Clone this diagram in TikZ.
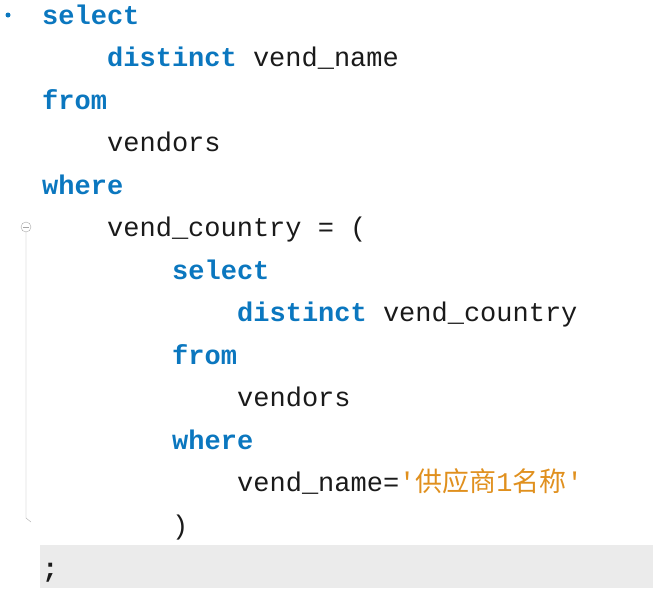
\documentclass[tikz,border=0pt]{standalone}
\usepackage{fontspec}
\setmonofont{Liberation Mono}
\newfontfamily\cjk{Noto Sans CJK SC}
\definecolor{kw}{HTML}{0B77BF}
\definecolor{str}{HTML}{E0901E}
\definecolor{txt}{HTML}{1A1A1A}
\definecolor{bar}{HTML}{EBEBEB}
\tikzset{code/.style={anchor=base west,inner sep=0pt,yshift=-9pt,font=\ttfamily\fontsize{27}{30}\selectfont,text=txt},
kwd/.style={code,text=kw,font=\ttfamily\bfseries\fontsize{27}{30}\selectfont}}
\begin{document}
\begin{tikzpicture}[x=1pt,y=-1pt]
\useasboundingbox (0,0) rectangle (653,597);
\fill[bar] (40,545) rectangle (653,588);
\fill[kw] (8,15) circle (2.5);
\draw[gray!70] (26,227) circle (5);
\draw[gray!70] (23,227) -- (29,227);
\draw[gray!70] (26,232) -- (26,518) -- (31,522);
\node[kwd] (l1) at (42,15) {select};
\node[kwd] (l2) at (107,57) {distinct\ \textcolor{txt}{\mdseries vend\_name}};
\node[kwd] (l3) at (42,100) {from};
\node[code] (l4) at (107,142) {vendors};
\node[kwd] (l5) at (42,185) {where};
\node[code] (l6) at (107,227) {vend\_country = (};
\node[kwd] (l7) at (172,270) {select};
\node[kwd] (l8) at (237,312) {distinct\ \textcolor{txt}{\mdseries vend\_country}};
\node[kwd] (l9) at (172,355) {from};
\node[code] (l10) at (237,397) {vendors};
\node[kwd] (l11) at (172,440) {where};
\node[code] (l12) at (237,482) {vend\_name=\textcolor{str}{'{\cjk 供应商}1{\cjk 名称}'}};
\node[code] (l13) at (172,525) {)};
\node[kwd] (l14) at (42,568) {\textcolor{txt}{;}};
\end{tikzpicture}
\end{document}
